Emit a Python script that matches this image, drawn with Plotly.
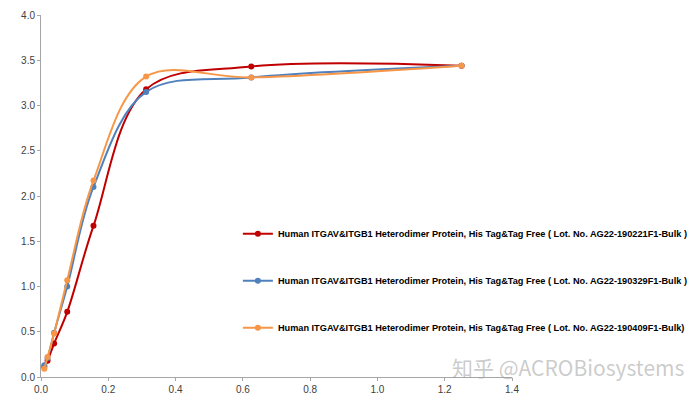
import plotly.graph_objects as go

conc = [1.25, 0.625, 0.3125, 0.156, 0.078, 0.039, 0.0195, 0.0098]
od_a = [3.44, 3.43, 3.18, 1.67, 0.72, 0.37, 0.18, 0.11]
od_b = [3.44, 3.31, 3.15, 2.10, 1.00, 0.49, 0.21, 0.13]
od_c = [3.44, 3.31, 3.32, 2.17, 1.07, 0.48, 0.22, 0.09]

names = [
    'Human ITGAV&ITGB1 Heterodimer Protein, His Tag&Tag Free ( Lot. No. AG22-190221F1-Bulk )',
    'Human ITGAV&ITGB1 Heterodimer Protein, His Tag&Tag Free ( Lot. No. AG22-190329F1-Bulk )',
    'Human ITGAV&ITGB1 Heterodimer Protein, His Tag&Tag Free ( Lot. No. AG22-190409F1-Bulk)',
]
colors = ['#C00000', '#4F81BD', '#F79646']

fig = go.Figure()
for i, ys in enumerate([od_a, od_b, od_c]):
    fig.add_trace(go.Scatter(
        x=conc, y=ys, mode='lines+markers', name=names[i],
        line=dict(color=colors[i], width=2, shape='spline', smoothing=1),
        marker=dict(color=colors[i], size=6),
        legendgroup=str(i),
    ))

axis_style = dict(showgrid=False, zeroline=False, showline=True, linecolor='#A6A6A6',
                  linewidth=1, ticks='outside', tickcolor='#A6A6A6', ticklen=3,
                  automargin=False, ticklabeloverflow='allow',
                  tickfont=dict(family='Liberation Sans', size=10, color='#404040'))

fig.update_layout(
    width=700, height=403,
    margin=dict(l=33, r=196, t=7, b=34, autoexpand=False),
    plot_bgcolor='white', paper_bgcolor='white',
    xaxis=dict(range=[0, 1.4], dtick=0.2, tickformat='.1f', **axis_style),
    yaxis=dict(range=[0, 4], dtick=0.5, tickformat='.1f', **axis_style),
    showlegend=True,
    legend=dict(x=0.418, y=0.436, xanchor='left', yanchor='top', itemwidth=30,
                font=dict(family='Liberation Sans', size=9.2, color='black', weight='bold'),
                tracegroupgap=28, bgcolor='rgba(0,0,0,0)'),
    annotations=[dict(text='知乎 @ACROBiosystems', xref='paper', yref='paper',
                      x=1.372, y=0.028, xanchor='right', yanchor='middle', showarrow=False,
                      font=dict(family='Noto Sans CJK SC', size=21, color='rgba(160,160,160,0.55)'))],
)

fig.write_html('out.html')
